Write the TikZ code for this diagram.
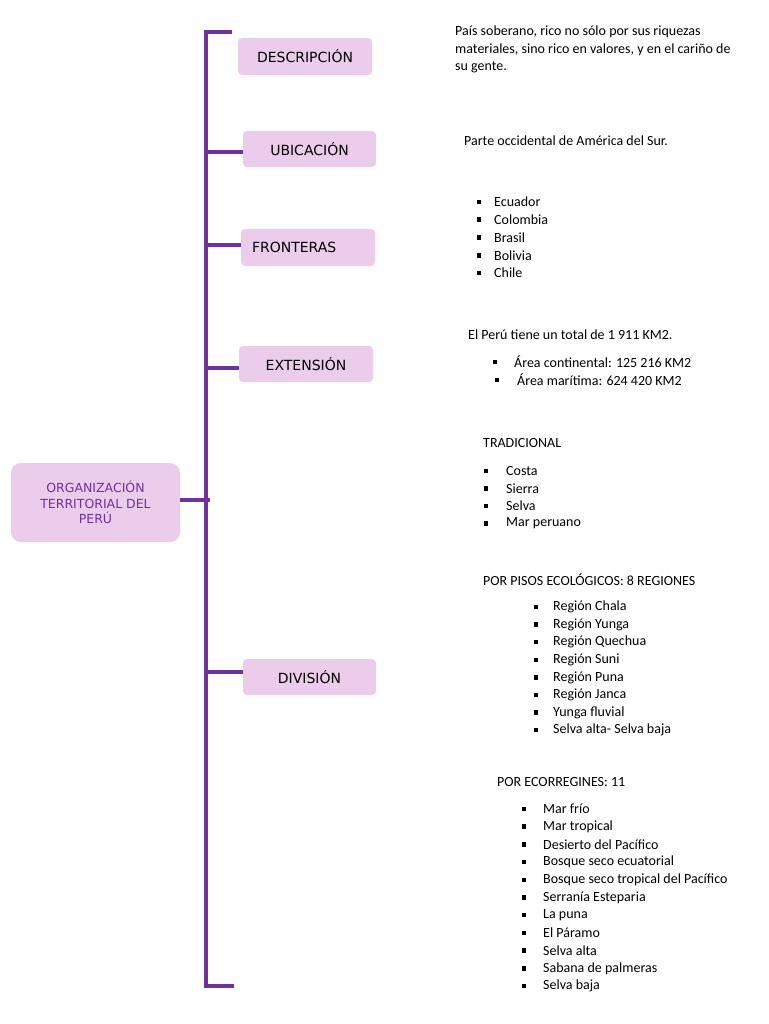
\documentclass[tikz,border=0pt]{standalone}
\usepackage{fontspec}
\setmainfont{Carlito}
\newfontfamily\boxfont{DejaVu Sans}
\definecolor{barpurple}{HTML}{7030A0}
\definecolor{boxpink}{HTML}{EBCDEB}
\begin{document}
\begin{tikzpicture}[x=1pt,y=-1pt,
  box/.style={fill=boxpink, rounded corners=4pt, font=\boxfont\fontsize{14}{16}\selectfont},
  bar/.style={draw=barpurple, line width=4.5pt},
  txt/.style={anchor=west, inner sep=0pt, font=\fontsize{14}{16}\selectfont},
  sq/.style={fill=black, minimum size=4.5pt, inner sep=0pt}
]
\useasboundingbox (0,0) rectangle (768,1024);
% boxes
\node (desc) [box, minimum width=134pt, minimum height=37pt] at (305,56.5) {DESCRIPCIÓN};
\node (ubic) [box, minimum width=133pt, minimum height=36pt] at (309.5,149) {UBICACIÓN};
\node (fron) [box, minimum width=134pt, minimum height=37pt, text width=112pt, align=left] at (308,247.5) {FRONTERAS};
\node (ext) [box, minimum width=134pt, minimum height=36pt] at (306,364) {EXTENSIÓN};
\node (div) [box, minimum width=133pt, minimum height=36pt] at (309.5,677) {DIVISIÓN};
\node (root) [box, minimum width=169pt, minimum height=79pt, rounded corners=10pt, text=barpurple, align=center, font=\boxfont\fontsize{12.5}{15.5}\selectfont] at (95.5,502.5) {ORGANIZACIÓN\\TERRITORIAL DEL\\PERÚ};
% bar
\coordinate (top) at (206,32);
\coordinate (bot) at (206,986);
\draw [bar] (top) -- (bot);
\draw [bar] ([xshift=-2.25pt]top) -- (232,32);
\draw [bar] ([xshift=-2.25pt]bot) -- (234,986);
\draw [bar] (206,152) -- (ubic.west |- 0,152);
\draw [bar] (206,245) -- (fron.west |- 0,245);
\draw [bar] (206,368) -- (ext.west |- 0,368);
\draw [bar] (root.east |- 0,500) -- (210,500);
\draw [bar] (206,672) -- (div.west |- 0,672);
% texts
\node (d1) [txt] at (455,32) {País soberano, rico no sólo por sus riquezas};
\node (d2) [txt] at (455,49.5) {materiales, sino rico en valores, y en el cariño de};
\node (d3) [txt] at (455,67.5) {su gente.};
\node (u1) [txt] at (464,141) {Parte occidental de América del Sur.};
\foreach \t [count=\i] in {Ecuador,Colombia,Brasil,Bolivia,Chile}{
  \node (fb\i) [sq] at (479,202+17.75*\i-17.75) {};
  \node (ft\i) [txt] at (494,202+17.75*\i-17.75) {\t};
}
\node (e0) [txt] at (468,335) {El Perú tiene un total de 1 911 KM2.};
\node (eb1) [sq] at (495,362) {};
\node (et1) [txt] at (514,362) {Área continental: 125 216 KM2};
\node (eb2) [sq] at (497,380) {};
\node (et2) [txt] at (517,380) {Área marítima: 624 420 KM2};
\node (t0) [txt] at (483,443) {TRADICIONAL};
\foreach \t [count=\i] in {Costa,Sierra,Selva,Mar peruano}{
  \node (tb\i) [sq] at (486,471+17.5*\i-17.5) {};
  \node (tt\i) [txt] at (506,471+17.5*\i-17.5) {\t};
}
\node (p0) [txt] at (483,580) {POR PISOS ECOLÓGICOS: 8 REGIONES};
\foreach \t [count=\i] in {Región Chala,Región Yunga,Región Quechua,Región Suni,Región Puna,Región Janca,Yunga fluvial,Selva alta- Selva baja}{
  \node (pb\i) [sq] at (536,607+17.6*\i-17.6) {};
  \node (pt\i) [txt] at (553,607+17.6*\i-17.6) {\t};
}
\node (c0) [txt] at (497,782) {POR ECORREGINES: 11};
\foreach \t [count=\i] in {Mar frío,Mar tropical,Desierto del Pacífico,Bosque seco ecuatorial,Bosque seco tropical del Pacífico,Serranía Esteparia,La puna,El Páramo,Selva alta,Sabana de palmeras,Selva baja}{
  \node (cb\i) [sq] at (524,809+17.7*\i-17.7) {};
  \node (ct\i) [txt] at (543,809+17.7*\i-17.7) {\t};
}
\end{tikzpicture}
\end{document}
